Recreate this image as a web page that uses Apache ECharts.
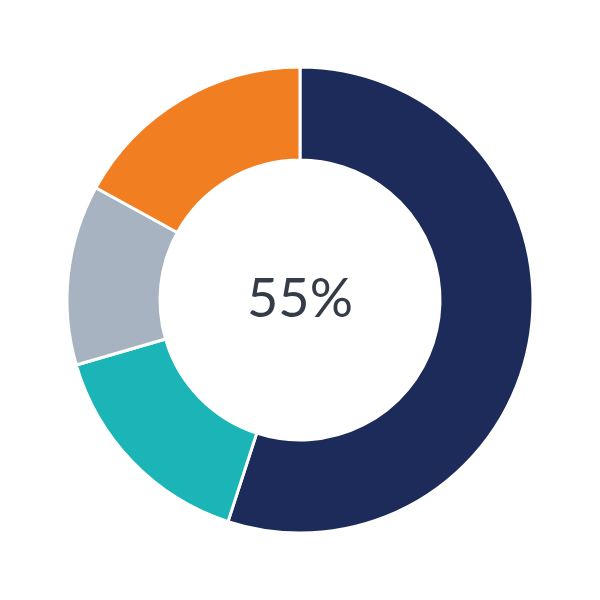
<!DOCTYPE html>
<html lang="en">
<head>
<meta charset="UTF-8" />
<title>Donut</title>
<style>
  html, body { margin: 0; padding: 0; background: #ffffff; }
  #chart { width: 600px; height: 600px; }
</style>
</head>
<body>
<div id="chart"></div>
<script src="https://cdn.jsdelivr.net/npm/echarts@6/dist/echarts.min.js"></script>
<script>
  // slices, clockwise from 12 o'clock
  const categories = ['A', 'B', 'C', 'D'];
  const values = [55, 15.5, 12.5, 17];
  const colors = ['#1c2b5a', '#1bb5b8', '#a8b3c1', '#f27e22'];
  const centerLabel = '55%';

  const chart = echarts.init(document.getElementById('chart'));
  chart.setOption({
    animation: false,
    title: {
      text: centerLabel,
      left: 'center',
      top: 'middle',
      textStyle: {
        fontFamily: 'Lato',
        fontWeight: 'normal',
        fontSize: 54,
        color: '#343c48'
      }
    },
    series: [{
      type: 'pie',
      center: ['50%', '50%'],
      radius: [140, 233],
      startAngle: 90,
      clockwise: true,
      label: { show: false },
      labelLine: { show: false },
      itemStyle: { borderColor: '#ffffff', borderWidth: 3 },
      data: categories.map((c, i) => ({
        name: c,
        value: values[i],
        itemStyle: { color: colors[i] }
      }))
    }]
  });
</script>
</body>
</html>
